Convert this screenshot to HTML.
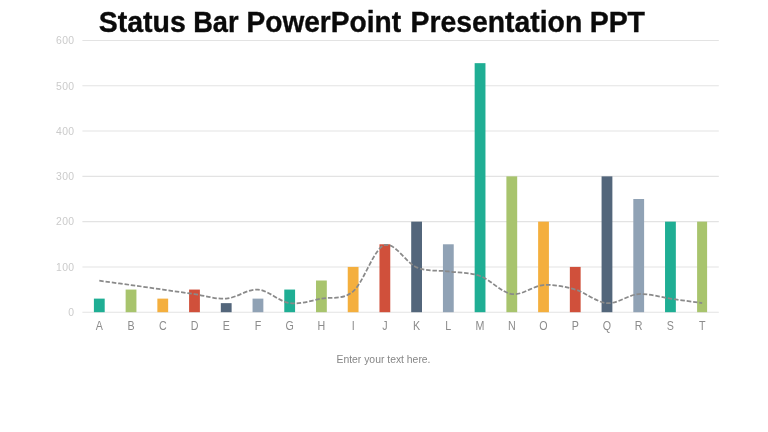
<!DOCTYPE html>
<html lang="en"><head><meta charset="utf-8"><title>Status Bar PowerPoint Presentation PPT</title>
<style>
html,body{margin:0;padding:0;background:#fff;}
body{width:768px;height:432px;overflow:hidden;}
svg{display:block;}
.t{font-family:"Liberation Sans",sans-serif;}
</style></head><body>
<svg width="768" height="432" viewBox="0 0 768 432">
<rect width="768" height="432" fill="#fff"/>
<line x1="82.4" x2="718.8" y1="312.20" y2="312.20" stroke="#e3e3e3" stroke-width="1.05"/>
<text x="74.4" y="315.90" text-anchor="end" font-size="10.4" letter-spacing="0.35" fill="#cbcbcb" class="t">0</text>
<line x1="82.4" x2="718.8" y1="266.92" y2="266.92" stroke="#e3e3e3" stroke-width="1.05"/>
<text x="74.4" y="270.62" text-anchor="end" font-size="10.4" letter-spacing="0.35" fill="#cbcbcb" class="t">100</text>
<line x1="82.4" x2="718.8" y1="221.64" y2="221.64" stroke="#e3e3e3" stroke-width="1.05"/>
<text x="74.4" y="225.34" text-anchor="end" font-size="10.4" letter-spacing="0.35" fill="#cbcbcb" class="t">200</text>
<line x1="82.4" x2="718.8" y1="176.36" y2="176.36" stroke="#e3e3e3" stroke-width="1.05"/>
<text x="74.4" y="180.06" text-anchor="end" font-size="10.4" letter-spacing="0.35" fill="#cbcbcb" class="t">300</text>
<line x1="82.4" x2="718.8" y1="131.08" y2="131.08" stroke="#e3e3e3" stroke-width="1.05"/>
<text x="74.4" y="134.78" text-anchor="end" font-size="10.4" letter-spacing="0.35" fill="#cbcbcb" class="t">400</text>
<line x1="82.4" x2="718.8" y1="85.80" y2="85.80" stroke="#e3e3e3" stroke-width="1.05"/>
<text x="74.4" y="89.50" text-anchor="end" font-size="10.4" letter-spacing="0.35" fill="#cbcbcb" class="t">500</text>
<line x1="82.4" x2="718.8" y1="40.52" y2="40.52" stroke="#e3e3e3" stroke-width="1.05"/>
<text x="74.4" y="44.22" text-anchor="end" font-size="10.4" letter-spacing="0.35" fill="#cbcbcb" class="t">600</text>
<rect x="93.90" y="298.62" width="10.8" height="13.58" fill="#1fae94"/>
<text transform="translate(99.30,330.2) scale(0.87,1)" text-anchor="middle" font-size="12.3" fill="#8c8c8c" class="t">A</text>
<rect x="125.63" y="289.56" width="10.8" height="22.64" fill="#a8c46d"/>
<text transform="translate(131.03,330.2) scale(0.87,1)" text-anchor="middle" font-size="12.3" fill="#8c8c8c" class="t">B</text>
<rect x="157.36" y="298.62" width="10.8" height="13.58" fill="#f4af3e"/>
<text transform="translate(162.76,330.2) scale(0.87,1)" text-anchor="middle" font-size="12.3" fill="#8c8c8c" class="t">C</text>
<rect x="189.09" y="289.56" width="10.8" height="22.64" fill="#d0503b"/>
<text transform="translate(194.49,330.2) scale(0.87,1)" text-anchor="middle" font-size="12.3" fill="#8c8c8c" class="t">D</text>
<rect x="220.82" y="303.14" width="10.8" height="9.06" fill="#53667b"/>
<text transform="translate(226.22,330.2) scale(0.87,1)" text-anchor="middle" font-size="12.3" fill="#8c8c8c" class="t">E</text>
<rect x="252.55" y="298.62" width="10.8" height="13.58" fill="#90a2b5"/>
<text transform="translate(257.95,330.2) scale(0.87,1)" text-anchor="middle" font-size="12.3" fill="#8c8c8c" class="t">F</text>
<rect x="284.28" y="289.56" width="10.8" height="22.64" fill="#1fae94"/>
<text transform="translate(289.68,330.2) scale(0.87,1)" text-anchor="middle" font-size="12.3" fill="#8c8c8c" class="t">G</text>
<rect x="316.01" y="280.50" width="10.8" height="31.70" fill="#a8c46d"/>
<text transform="translate(321.41,330.2) scale(0.87,1)" text-anchor="middle" font-size="12.3" fill="#8c8c8c" class="t">H</text>
<rect x="347.74" y="266.92" width="10.8" height="45.28" fill="#f4af3e"/>
<text transform="translate(353.14,330.2) scale(0.87,1)" text-anchor="middle" font-size="12.3" fill="#8c8c8c" class="t">I</text>
<rect x="379.47" y="244.28" width="10.8" height="67.92" fill="#d0503b"/>
<text transform="translate(384.87,330.2) scale(0.87,1)" text-anchor="middle" font-size="12.3" fill="#8c8c8c" class="t">J</text>
<rect x="411.20" y="221.64" width="10.8" height="90.56" fill="#53667b"/>
<text transform="translate(416.60,330.2) scale(0.87,1)" text-anchor="middle" font-size="12.3" fill="#8c8c8c" class="t">K</text>
<rect x="442.93" y="244.28" width="10.8" height="67.92" fill="#90a2b5"/>
<text transform="translate(448.33,330.2) scale(0.87,1)" text-anchor="middle" font-size="12.3" fill="#8c8c8c" class="t">L</text>
<rect x="474.66" y="63.16" width="10.8" height="249.04" fill="#1fae94"/>
<text transform="translate(480.06,330.2) scale(0.87,1)" text-anchor="middle" font-size="12.3" fill="#8c8c8c" class="t">M</text>
<rect x="506.39" y="176.36" width="10.8" height="135.84" fill="#a8c46d"/>
<text transform="translate(511.79,330.2) scale(0.87,1)" text-anchor="middle" font-size="12.3" fill="#8c8c8c" class="t">N</text>
<rect x="538.12" y="221.64" width="10.8" height="90.56" fill="#f4af3e"/>
<text transform="translate(543.52,330.2) scale(0.87,1)" text-anchor="middle" font-size="12.3" fill="#8c8c8c" class="t">O</text>
<rect x="569.85" y="266.92" width="10.8" height="45.28" fill="#d0503b"/>
<text transform="translate(575.25,330.2) scale(0.87,1)" text-anchor="middle" font-size="12.3" fill="#8c8c8c" class="t">P</text>
<rect x="601.58" y="176.36" width="10.8" height="135.84" fill="#53667b"/>
<text transform="translate(606.98,330.2) scale(0.87,1)" text-anchor="middle" font-size="12.3" fill="#8c8c8c" class="t">Q</text>
<rect x="633.31" y="199.00" width="10.8" height="113.20" fill="#90a2b5"/>
<text transform="translate(638.71,330.2) scale(0.87,1)" text-anchor="middle" font-size="12.3" fill="#8c8c8c" class="t">R</text>
<rect x="665.04" y="221.64" width="10.8" height="90.56" fill="#1fae94"/>
<text transform="translate(670.44,330.2) scale(0.87,1)" text-anchor="middle" font-size="12.3" fill="#8c8c8c" class="t">S</text>
<rect x="697.10" y="221.64" width="10.0" height="90.56" fill="#a8c46d"/>
<text transform="translate(702.17,330.2) scale(0.87,1)" text-anchor="middle" font-size="12.3" fill="#8c8c8c" class="t">T</text>
<path d="M99.30,280.73 C104.59,281.45 120.45,283.56 131.03,285.03 C141.61,286.50 152.18,288.05 162.76,289.56 C173.34,291.07 183.91,292.58 194.49,294.09 C205.07,295.60 215.64,299.37 226.22,298.62 C236.80,297.86 247.37,288.81 257.95,289.56 C268.53,290.31 279.10,301.63 289.68,303.14 C300.26,304.65 310.83,300.58 321.41,298.62 C331.99,296.65 342.56,300.31 353.14,291.37 C363.72,282.43 374.29,247.36 384.87,244.96 C395.45,242.56 406.02,262.96 416.60,267.37 C427.18,271.79 437.75,270.01 448.33,271.45 C458.91,272.88 469.48,272.20 480.06,275.98 C490.64,279.75 501.21,292.58 511.79,294.09 C522.37,295.60 532.94,285.79 543.52,285.03 C554.10,284.28 564.67,286.54 575.25,289.56 C585.83,292.58 596.40,302.39 606.98,303.14 C617.56,303.90 628.13,294.84 638.71,294.09 C649.29,293.33 659.86,297.11 670.44,298.62 C681.02,300.13 696.88,302.39 702.17,303.14" fill="none" stroke="#8a8a8a" stroke-width="1.75" stroke-dasharray="4.5 1.85" stroke-linecap="butt" stroke-linejoin="round"/>
<g font-size="29" font-weight="700" fill="#0a0a0a" stroke="#0a0a0a" stroke-width="0.35" class="t">
<text x="98.77" y="31.6" textLength="87.05" lengthAdjust="spacingAndGlyphs">Status</text>
<text x="193.21" y="31.6" textLength="45.32" lengthAdjust="spacingAndGlyphs">Bar</text>
<text x="246.49" y="31.6" textLength="154.51" lengthAdjust="spacingAndGlyphs">PowerPoint</text>
<text x="410.47" y="31.6" textLength="171.79" lengthAdjust="spacingAndGlyphs">Presentation</text>
<text x="589.69" y="31.6" textLength="55.31" lengthAdjust="spacingAndGlyphs">PPT</text>
</g>
<text x="383.5" y="362.6" text-anchor="middle" font-size="10.3" fill="#868686" class="t" textLength="94" lengthAdjust="spacingAndGlyphs">Enter your text here.</text>
</svg>
</body></html>
